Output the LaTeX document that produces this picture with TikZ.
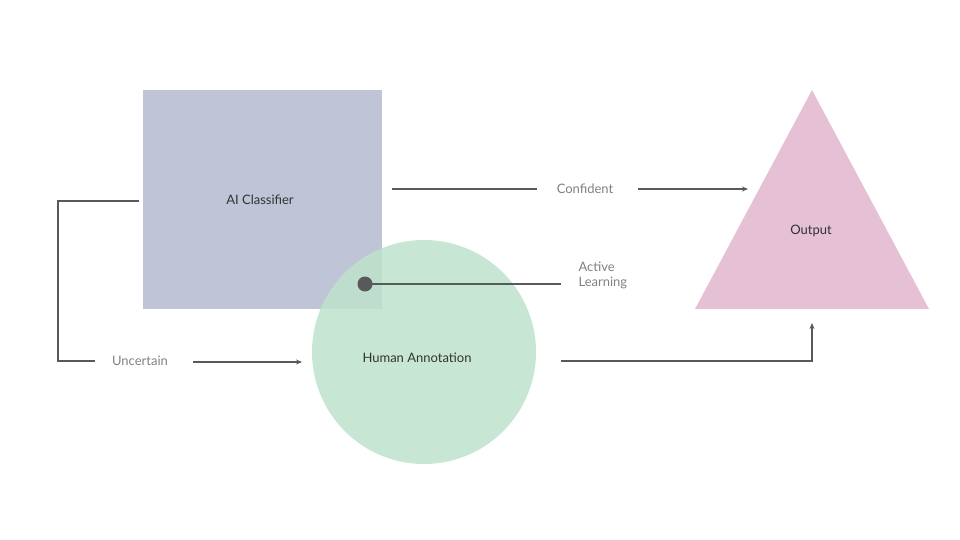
\documentclass[tikz,border=0pt]{standalone}
\usepackage{fontspec}
\setmainfont{Lato}
\usetikzlibrary{arrows.meta}
\begin{document}
\begin{tikzpicture}[x=1pt,y=-1pt,
  conn/.style={draw=black!65,line width=2.2pt},
  arr/.style={conn,-{Stealth[length=6pt,width=5pt]}},
  lbl/.style={text=black!50,font=\fontsize{13}{15}\selectfont},
  ttl/.style={text=black!80,font=\fontsize{13}{15}\selectfont}]
\useasboundingbox (0,0) rectangle (960,540);
\fill[fill={rgb,255:red,191;green,196;blue,214}] (143,90) rectangle (382,309);
\fill[fill={rgb,255:red,190;green,226;blue,204},opacity=0.85] (424,352) circle (112);
\fill[fill={rgb,255:red,230;green,193;blue,214}] (812,90) -- (929,309) -- (695,309) -- cycle;
\node[ttl] (ai) at (260,200) {AI Classifier};
\node[ttl] (out) at (811,231) {Output};
\node[ttl] (ha) at (417,358) {Human Annotation};
\node[lbl] (conf) at (585,189) {Confident};
\node[lbl] (unc) at (140,361) {Uncertain};
\node[lbl,align=left,anchor=west] (al) at (575,275) {Active\\Learning};
\coordinate (c1) at (392,189); \coordinate (c2) at (537,189);
\coordinate (c3) at (638,189); \coordinate (c4) at (748,189);
\coordinate (u1) at (139,201); \coordinate (u2) at (95,361);
\coordinate (u3) at (193,362); \coordinate (u4) at (302,362);
\coordinate (h1) at (561,361); \coordinate (h2) at (812,323);
\coordinate (d) at (365,284); \coordinate (a2) at (561,284);
\draw[conn] (c1) -- (c2);
\draw[arr] (c3) -- (c4);
\draw[conn] (u1) -- (58,201) -- (58,361) -- (u2);
\draw[arr] (u3) -- (u4);
\draw[arr] (h1) -- (812,361) -- (h2);
\draw[conn,line width=2pt] (d) -- (a2);
\fill[black!65] (d) circle (7.5);
\end{tikzpicture}
\end{document}
